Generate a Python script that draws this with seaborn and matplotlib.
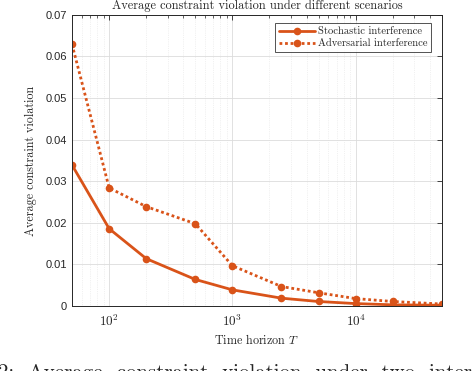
import matplotlib
matplotlib.use("Agg")
import matplotlib.pyplot as plt
import matplotlib.ticker as mticker
import seaborn as sns
import pandas as pd

# time horizons T
horizons = [50, 100, 200, 500, 1000, 2500, 5000, 10000, 20000, 50000]
# average constraint violation
stochastic = [0.0339, 0.0186, 0.0114, 0.0064, 0.0039, 0.0019, 0.0011, 0.0006, 0.0003, 0.0002]
adversarial = [0.0629, 0.0284, 0.0239, 0.0198, 0.0097, 0.0047, 0.0032, 0.0018, 0.0011, 0.0005]
series_names = ["Stochastic interference", "Adversarial interference"]
yticks = [0, 0.01, 0.02, 0.03, 0.04, 0.05, 0.06, 0.07]
ytick_labels = ["0", "0.01", "0.02", "0.03", "0.04", "0.05", "0.06", "0.07"]
xticks = [100, 1000, 10000]
xtick_labels = [r"$\mathsf{10^{2}}$", r"$\mathsf{10^{3}}$", r"$\mathsf{10^{4}}$"]

df = pd.DataFrame({
    "T": horizons * 2,
    "violation": stochastic + adversarial,
    "scenario": [series_names[0]] * len(horizons) + [series_names[1]] * len(horizons),
})

sns.set_style("white")
plt.rcParams["mathtext.fontset"] = "cm"
plt.rcParams["font.family"] = ["Liberation Sans", "DejaVu Sans"]

color = "#D95319"
serif = "cmr10"

fig = plt.figure(figsize=(4.74, 3.71), dpi=100)
ax = fig.add_axes([0.152, 0.175, 0.780, 0.785])

sns.lineplot(data=df, x="T", y="violation", hue="scenario", style="scenario",
             palette=[color, color], dashes=[(None, None), (1, 1)],
             markers=["o", "o"], markersize=5.5, markeredgewidth=0,
             linewidth=2, ax=ax, legend=True)

ax.set_xscale("log")
ax.set_xlim(50, 50000)
ax.set_ylim(0, 0.07)
ax.set_yticks(yticks, labels=ytick_labels)
ax.set_xticks(xticks, labels=xtick_labels)
ax.xaxis.set_minor_locator(mticker.LogLocator(base=10, subs=range(2, 10), numticks=20))
ax.xaxis.set_minor_formatter(mticker.NullFormatter())

ax.grid(True, which="major", color="#dcdcdc", linewidth=0.6)
ax.grid(True, which="minor", axis="x", color="#e4e4e4", linewidth=0.5, linestyle=":")
ax.set_axisbelow(True)
ax.tick_params(which="both", direction="in", top=True, right=True,
               labelcolor="#262626", color="#262626")
ax.tick_params(axis="y", labelsize=8)
ax.tick_params(axis="x", labelsize=9.5, pad=5)
ax.tick_params(which="major", length=3.5, width=0.6)
ax.tick_params(which="minor", length=2, width=0.5)
for s in ax.spines.values():
    s.set_color("#262626")
    s.set_linewidth(0.7)

ax.set_title("Average constraint violation under different scenarios",
             fontfamily=serif, fontsize=8.9, pad=4)
ax.set_xlabel("Time horizon $T$", fontfamily=serif, fontsize=8.7, labelpad=3)
ax.set_ylabel("Average constraint violation", fontfamily=serif, fontsize=8.7, labelpad=6)

handles, labels = ax.get_legend_handles_labels()
leg = ax.legend(handles, labels, loc="upper right", prop={"family": serif, "size": 7.6},
                frameon=True, fancybox=False, edgecolor="#262626", borderpad=0.35,
                handlelength=3.4, handletextpad=0.3, labelspacing=0.25,
                bbox_to_anchor=(0.985, 0.99))
leg.get_frame().set_linewidth(0.7)

# cropped figure caption under the plot
fig.text(-0.005, 0.02, "2:  Average  constraint  violation  under  two  inter",
         fontfamily=serif, fontsize=15, va="top", ha="left")

fig.savefig("out.png", dpi=100)
